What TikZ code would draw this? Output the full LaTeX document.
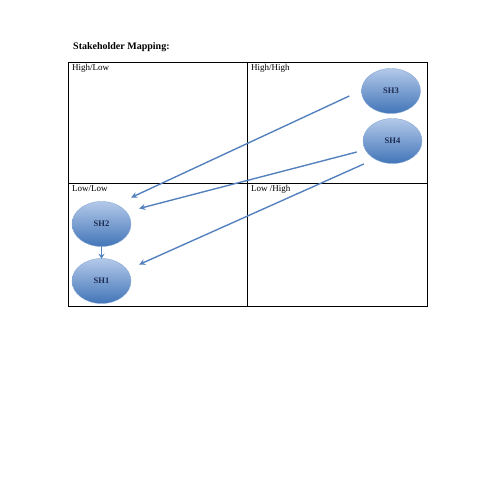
\documentclass[tikz,border=0pt]{standalone}
\usepackage{fontspec}
\setmainfont{Liberation Serif}
\usetikzlibrary{shapes.geometric,arrows.meta}
\definecolor{shtop}{HTML}{B3C9E9}
\definecolor{shbot}{HTML}{4275B8}
\definecolor{shline}{HTML}{5581BE}
\definecolor{shtext}{HTML}{1C2B52}
\tikzset{
  sh/.style={ellipse, minimum width=59pt, minimum height=45pt, inner sep=0pt,
    top color=shtop, bottom color=shbot, draw=shtop!60!shbot, line width=0.4pt,
    text=shtext, font=\fontsize{8.5}{9}\selectfont\bfseries},
  quad/.style={anchor=north west, inner sep=0pt, font=\fontsize{9}{10}\selectfont},
  link/.style={draw=shline, line width=1.4pt, -{Stealth[length=6pt,width=6pt]}}
}
\begin{document}
\begin{tikzpicture}[x=1pt,y=-1pt]
  \useasboundingbox (0,0) rectangle (495,495);
  \node[anchor=west, inner sep=0pt, font=\fontsize{10}{11}\selectfont\bfseries] (title) at (73,47.5) {Stakeholder Mapping:};
  % grid
  \draw[line width=0.8pt] (68.5,62.5) rectangle (427,306);
  \draw[line width=0.8pt] (247.5,62.5) -- (247.5,306);
  \draw[line width=0.8pt] (68.5,183) -- (427,183);
  \node[quad] (hl) at (72,64.5) {High/Low};
  \node[quad] (hh) at (251,64.5) {High/High};
  \node[quad] (ll) at (72,185.5) {Low/Low};
  \node[quad] (lh) at (251,185.5) {Low /High};
  % stakeholders
  \node[sh] (SH3) at (391,91) {SH3};
  \node[sh] (SH4) at (392.5,141) {SH4};
  \node[sh] (SH2) at (101.5,224) {SH2};
  \node[sh] (SH1) at (101.5,281) {SH1};
  \coordinate (a3) at ([shift={(-12,5)}]SH3.west);
  \coordinate (a4) at ([shift={(-6,11)}]SH4.west);
  \coordinate (b4) at ([shift={(1,23)}]SH4.west);
  \coordinate (e2) at ([shift={(0,-26.5)}]SH2.east);
  \coordinate (f2) at ([shift={(8,-15.5)}]SH2.east);
  \coordinate (e1) at ([shift={(8,-16.5)}]SH1.east);
  \draw[link] (a3) -- (e2);
  \draw[link] (a4) -- (f2);
  \draw[link] (b4) -- (e1);
  \draw[link, -{Stealth[length=5pt,width=6pt]}] ([yshift=2pt]SH2.south) -- ([yshift=-0.5pt]SH1.north);
\end{tikzpicture}
\end{document}
